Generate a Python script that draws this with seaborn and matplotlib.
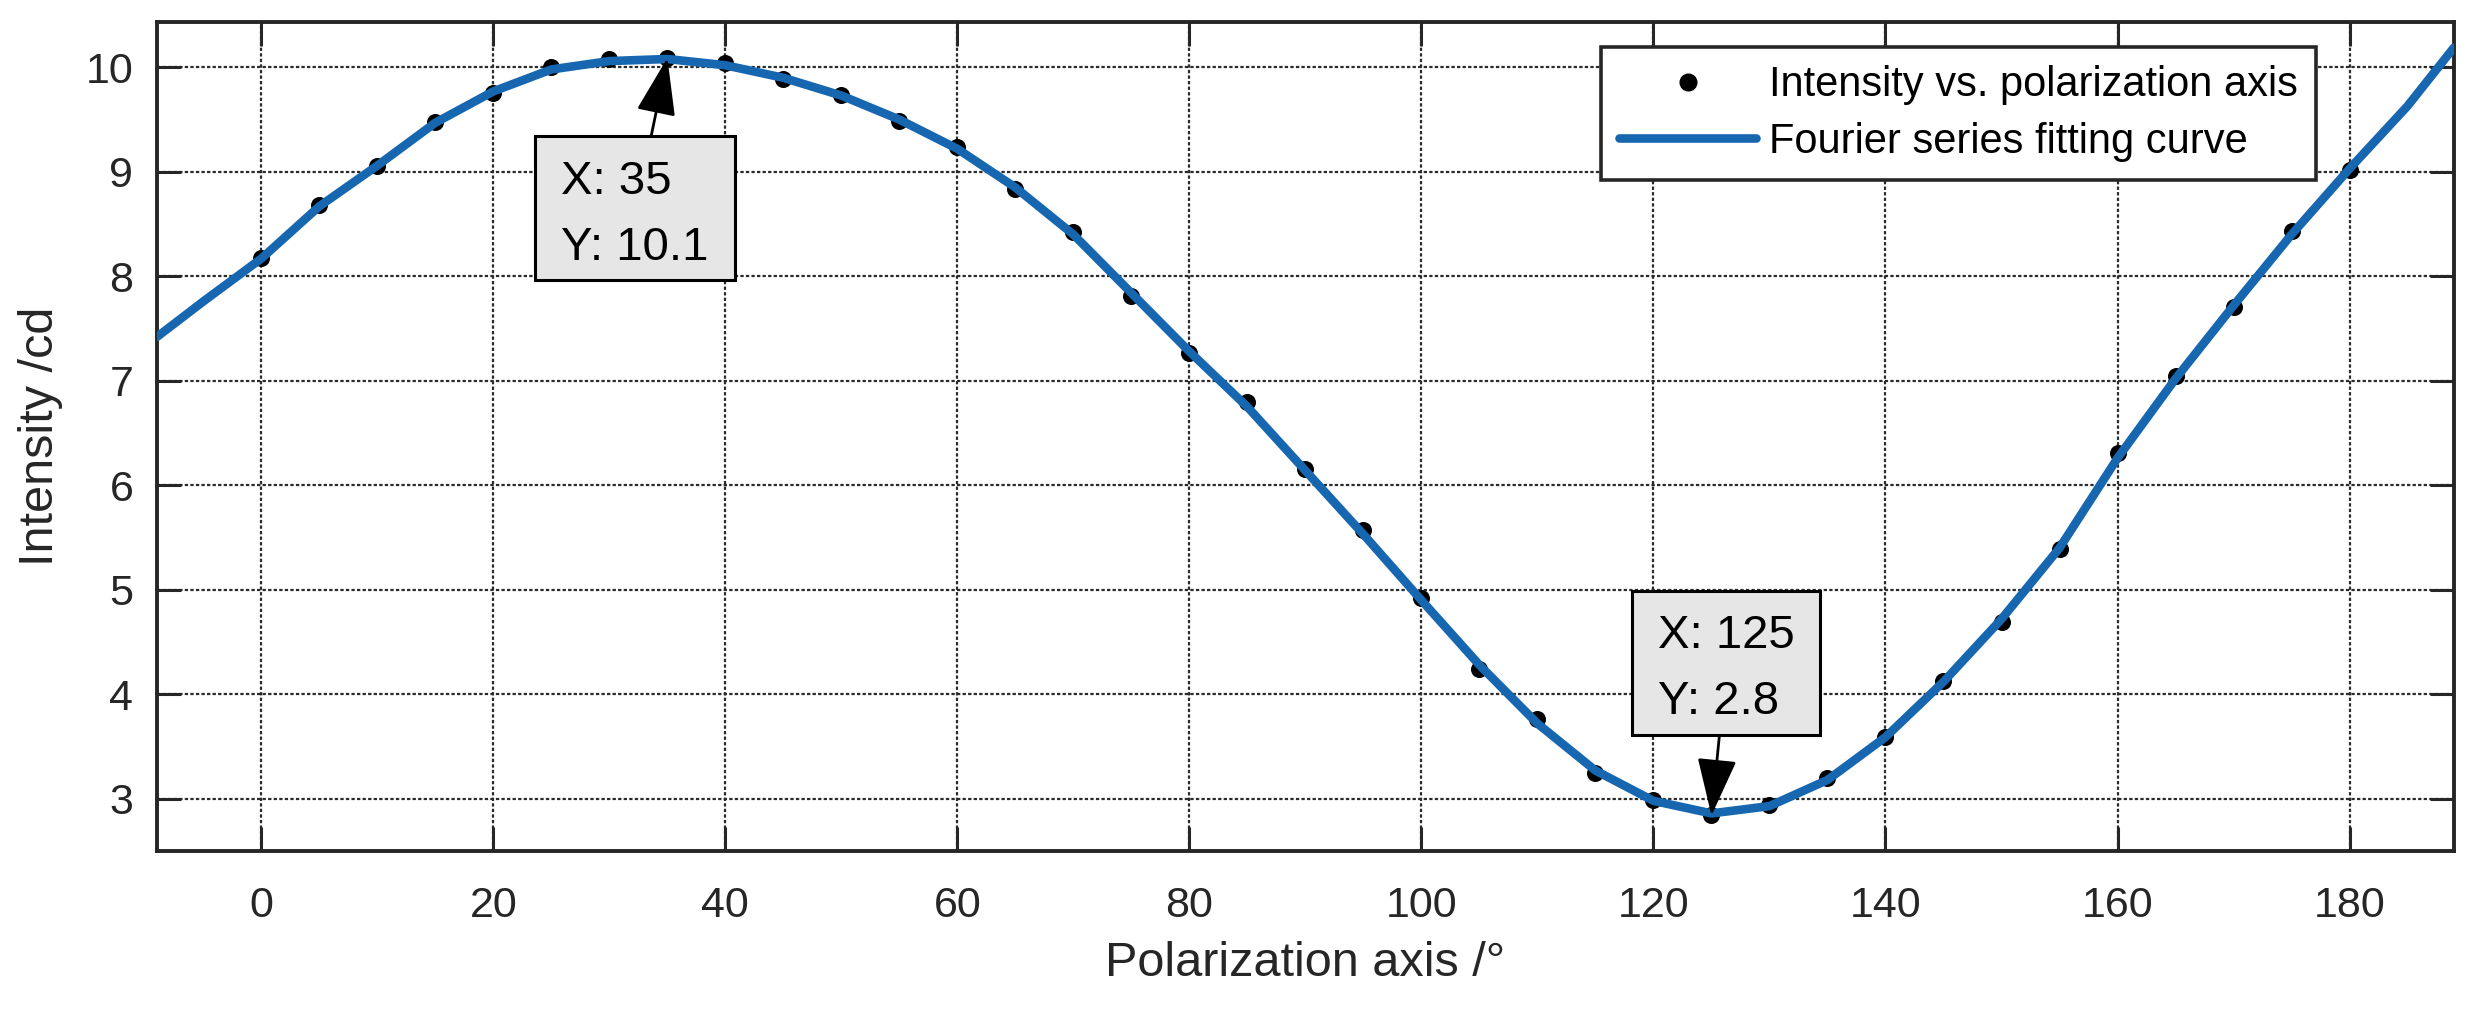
import matplotlib
matplotlib.use("Agg")
import matplotlib.pyplot as plt
import seaborn as sns
import pandas as pd
from matplotlib.lines import Line2D
from matplotlib.path import Path

# ---------------- data ----------------
angle_deg = [0, 5, 10, 15, 20, 25, 30, 35, 40, 45, 50, 55, 60, 65, 70, 75, 80, 85, 90,
             95, 100, 105, 110, 115, 120, 125, 130, 135, 140, 145, 150, 155, 160, 165,
             170, 175, 180]
intensity_cd = [8.18, 8.68, 9.06, 9.48, 9.75, 10.00, 10.08, 10.09, 10.04, 9.89, 9.74,
                9.49, 9.24, 8.84, 8.42, 7.81, 7.27, 6.80, 6.16, 5.57, 4.92, 4.24, 3.76,
                3.25, 2.99, 2.84, 2.94, 3.20, 3.59, 4.13, 4.69, 5.39, 6.31, 7.05, 7.71,
                8.43, 9.02]

fit_angle_deg = [-9, -5, 0, 5, 10, 15, 20, 25, 30, 35, 40, 45, 50, 55, 60, 65, 70, 75,
                 80, 85, 90, 95, 100, 105, 110, 115, 120, 125, 130, 135, 140, 145, 150,
                 155, 160, 165, 170, 175, 180, 185, 189]
fit_intensity_cd = [7.42, 7.76, 8.17, 8.67, 9.06, 9.47, 9.77, 9.98, 10.06, 10.08, 10.02,
                    9.90, 9.73, 9.50, 9.22, 8.85, 8.40, 7.84, 7.28, 6.75, 6.14, 5.53,
                    4.90, 4.28, 3.72, 3.27, 2.98, 2.86, 2.93, 3.18, 3.59, 4.12, 4.72,
                    5.40, 6.26, 7.02, 7.72, 8.40, 9.03, 9.63, 10.19]

x_ticks = [0, 20, 40, 60, 80, 100, 120, 140, 160, 180]
y_ticks = [3, 4, 5, 6, 7, 8, 9, 10]

legend_labels = ["Intensity vs. polarization axis", "Fourier series fitting curve"]
x_label = "Polarization axis /\u00b0"
y_label = "Intensity /cd"

tip1_xy = (35, 10.09)
tip1_text = "X: 35\nY: 10.1"
tip2_xy = (125, 2.84)
tip2_text = "X: 125\nY: 2.8"

# ---------------- styling ----------------
sns.set_theme(style="ticks")
plt.rcParams["font.family"] = ["Liberation Sans", "DejaVu Sans"]

AX_COLOR = "#262626"
LINE_BLUE = "#1767b0"

fig = plt.figure(figsize=(24.71, 10.10), dpi=100)
ax = fig.add_axes([0.0635, 0.1574, 0.9296, 0.8204])

pts = pd.DataFrame({"angle": angle_deg, "intensity": intensity_cd})
fit = pd.DataFrame({"angle": fit_angle_deg, "intensity": fit_intensity_cd})

sns.scatterplot(data=pts, x="angle", y="intensity", color="black", s=150,
                linewidth=0, zorder=2, ax=ax, legend=False)
sns.lineplot(data=fit, x="angle", y="intensity", color=LINE_BLUE, linewidth=6.2,
             zorder=3, ax=ax, legend=False, sort=True, estimator=None)

ax.set_xlim(-9, 189)
ax.set_ylim(2.5, 10.43)
ax.set_xticks(x_ticks)
ax.set_yticks(y_ticks)

ax.grid(True, color="#2b2b2b", linewidth=1.6, linestyle=(0, (1.5, 1.0)))
ax.set_axisbelow(True)

for sp in ax.spines.values():
    sp.set_visible(True)
    sp.set_linewidth(2.8)
    sp.set_color(AX_COLOR)

ax.tick_params(axis="both", direction="in", length=17, width=2.2, top=True,
               right=True, colors=AX_COLOR, labelsize=31)
ax.tick_params(axis="x", pad=25)
ax.tick_params(axis="y", pad=17)

ax.set_xlabel(x_label, fontsize=35, color=AX_COLOR)
ax.set_ylabel(y_label, fontsize=35, color=AX_COLOR)
ax.xaxis.set_label_coords(0.5, -0.108)
ax.yaxis.set_label_coords(-0.0408, 0.5)

# legend
handles = [
    Line2D([], [], marker="o", color="black", linestyle="none", markersize=12),
    Line2D([], [], color=LINE_BLUE, linewidth=6.2),
]
leg = ax.legend(handles, legend_labels, loc="upper right",
                bbox_to_anchor=(0.9398, 0.970), borderaxespad=0, fontsize=30,
                frameon=True, fancybox=False, framealpha=1, edgecolor=AX_COLOR,
                borderpad=0.43, handlelength=3.3, handletextpad=0.3,
                labelspacing=0.4)
leg.get_frame().set_linewidth(2.6)
for t in leg.get_texts():
    t.set_color("black")


# datatip boxes (different padding horizontally / vertically, like MATLAB)
def tip_box(x0, y0, width, height, mutation_size):
    px = 0.55 * mutation_size
    pt = 0.50 * mutation_size
    pb = 0.22 * mutation_size
    xa, xb = x0 - px, x0 + width + px
    ya, yb = y0 - pb, y0 + height + pt
    return Path([(xa, ya), (xb, ya), (xb, yb), (xa, yb), (xa, ya)], closed=True)


arrow_kw = dict(arrowstyle="-|>,head_length=1.8,head_width=0.62", color="black",
                lw=2.0, mutation_scale=20, shrinkA=0, shrinkB=0)
box_kw = dict(boxstyle=tip_box, facecolor="#e6e6e6", edgecolor="black", linewidth=2.2)

ax.annotate(tip1_text, xy=tip1_xy, xytext=(32.2, 8.59), textcoords="data",
            ha="center", va="center", multialignment="left", fontsize=34,
            linespacing=1.65, color="black", bbox=box_kw, arrowprops=arrow_kw,
            zorder=6)
ax.annotate(tip2_text, xy=tip2_xy, xytext=(126.25, 4.24), textcoords="data",
            ha="center", va="center", multialignment="left", fontsize=34,
            linespacing=1.65, color="black", bbox=box_kw, arrowprops=arrow_kw,
            zorder=6)

fig.savefig("out.png", dpi=100)
